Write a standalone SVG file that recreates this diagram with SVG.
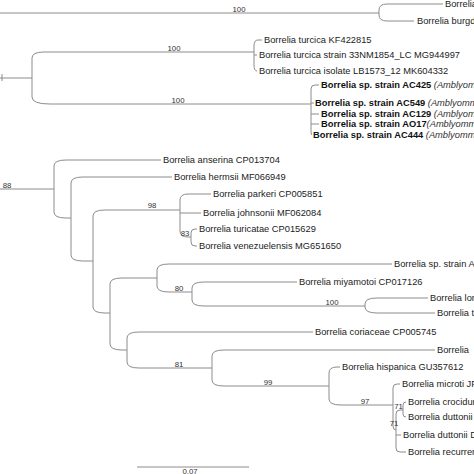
<svg xmlns="http://www.w3.org/2000/svg" width="474" height="474" viewBox="0 0 474 474">
<style>
.e{fill:none;stroke:#8c8c8c;stroke-width:1}
.t{font-family:"Liberation Sans",Arial,sans-serif;font-size:9.3px;fill:#222}
.b{font-weight:bold;fill:#111}
.i{font-style:italic;font-weight:normal;fill:#333}
.s{font-family:"Liberation Sans",Arial,sans-serif;font-size:7.8px;fill:#333;text-anchor:middle}
</style>
<rect width="474" height="474" fill="#fff"/>
<g id="connectors">
<path class="e" d="M0,13 L379,13"/>
<path class="e" d="M443,4 L387,4 Q379,4 379,10 L379,15 Q379,21 387,21 L414,21"/>
<path class="e" d="M2,74 L2,81 M0,78 L32,78"/>
<path class="e" d="M254,52 L44,52 Q32,52 32,58 L32,97 Q32,104 50,104 L311,104"/>
<path class="e" d="M262,40 L258,40 Q254,40 254,46 L254,65 Q254,71 257,71 M254,55 L257,55"/>
<path class="e" d="M319,85 L315,85 Q311,85 311,89 L311,131 Q311,135 312,135 M311,103 L314,103 M311,114 L319,114 M311,124 L319,124"/>
<path class="e" d="M0,189 L54,189"/>
<path class="e" d="M161,160 L66,160 Q54,160 54,166 L54,212 Q54,218 66,218 L71,218"/>
<path class="e" d="M172,177 L83,177 Q71,177 71,183 L71,255 Q71,261 83,261 L93,261"/>
<path class="e" d="M180,210 L105,210 Q93,210 93,216 L93,307 Q93,313 105,313 L110,313"/>
<path class="e" d="M211,194 L188,194 Q180,194 180,200 L180,231 Q180,237 188,237 L191,237 M180,213 L201,213"/>
<path class="e" d="M197,229 L195,229 Q191,229 191,233 L191,242 Q191,246 195,246 L197,246"/>
<path class="e" d="M157,278 L122,278 Q110,278 110,284 L110,344 Q110,350 122,350 L127,350"/>
<path class="e" d="M392,264 L169,264 Q157,264 157,270 L157,286 Q157,292 169,292 L192,292"/>
<path class="e" d="M297,282 L204,282 Q192,282 192,288 L192,300 Q192,306 204,306 L365,306"/>
<path class="e" d="M428,298 L377,298 Q365,298 365,304 L365,307 Q365,313 377,313 L435,313"/>
<path class="e" d="M313,332 L139,332 Q127,332 127,338 L127,362 Q127,368 139,368 L212,368"/>
<path class="e" d="M435,350 L224,350 Q212,350 212,356 L212,380 Q212,386 224,386 L329,386"/>
<path class="e" d="M340,367 L337,367 Q329,367 329,373 L329,399 Q329,405 341,405 L393,405"/>
<path class="e" d="M400,384 L397,384 Q393,384 393,388 L393,426 Q393,430 396,430"/>
<path class="e" d="M403,410 L400,410 Q396,410 396,414 L396,448 Q396,452 400,452 L406,452 M396,435 L401,435"/>
<path class="e" d="M406,402 Q403,402 403,405 L403,414 Q403,417 406,417"/>
<path class="e" d="M137,467 L249,467"/>
</g>
<g id="support-labels">
<text class="s" x="239" y="12">100</text>
<text class="s" x="174" y="50.5">100</text>
<text class="s" x="178" y="103">100</text>
<text class="s" x="7" y="188">88</text>
<text class="s" x="152" y="208">98</text>
<text class="s" x="185" y="236">83</text>
<text class="s" x="179" y="291">80</text>
<text class="s" x="332" y="305">100</text>
<text class="s" x="179" y="367">81</text>
<text class="s" x="268" y="385">99</text>
<text class="s" x="365" y="404">97</text>
<text class="s" x="398.5" y="408.5">71</text>
<text class="s" x="394" y="426">71</text>
</g>
<g id="scale"><text class="s" x="190" y="474">0.07</text></g>
<g id="n-top1"><text class="t" x="445" y="7.3">Borrelia</text></g>
<g id="n-top2"><text class="t" x="417" y="24.3">Borrelia burgdo</text></g>
<g id="n-turcica1"><text class="t" x="264" y="43.3">Borrelia turcica KF422815</text></g>
<g id="n-turcica2"><text class="t" x="259" y="58.3">Borrelia turcica strain 33NM1854_LC MG944997</text></g>
<g id="n-turcica3"><text class="t" x="259" y="74.3">Borrelia turcica isolate LB1573_12 MK604332</text></g>
<g id="n-AC425"><text class="t b" x="321" y="88.3">Borrelia sp. strain AC425 <tspan class="i">(Amblyomma</tspan></text></g>
<g id="n-AC549"><text class="t b" x="315" y="106.3">Borrelia sp. strain AC549 <tspan class="i">(Amblyomma</tspan></text></g>
<g id="n-AC129"><text class="t b" x="321" y="117.3">Borrelia sp. strain AC129 <tspan class="i">(Amblyomma</tspan></text></g>
<g id="n-AO17"><text class="t b" x="321" y="127.3">Borrelia sp. strain AO17<tspan class="i">(Amblyomma</tspan></text></g>
<g id="n-AC444"><text class="t b" x="313" y="138.3">Borrelia sp. strain AC444 <tspan class="i">(Amblyomma</tspan></text></g>
<g id="n-anserina"><text class="t" x="163" y="163.3">Borrelia anserina CP013704</text></g>
<g id="n-hermsii"><text class="t" x="174" y="180.3">Borrelia hermsii MF066949</text></g>
<g id="n-parkeri"><text class="t" x="213" y="197.3">Borrelia parkeri CP005851</text></g>
<g id="n-johnsonii"><text class="t" x="203" y="216.3">Borrelia johnsonii MF062084</text></g>
<g id="n-turicatae"><text class="t" x="199" y="232.3">Borrelia turicatae CP015629</text></g>
<g id="n-venezuelensis"><text class="t" x="199" y="249.3">Borrelia venezuelensis MG651650</text></g>
<g id="n-spA"><text class="t" x="394" y="267.3">Borrelia sp. strain A</text></g>
<g id="n-miyamotoi"><text class="t" x="299" y="285.3">Borrelia miyamotoi CP017126</text></g>
<g id="n-lon"><text class="t" x="430" y="301.3">Borrelia lon</text></g>
<g id="n-t"><text class="t" x="437" y="316.3">Borrelia t</text></g>
<g id="n-coriaceae"><text class="t" x="315" y="335.3">Borrelia coriaceae CP005745</text></g>
<g id="n-b350"><text class="t" x="437" y="353.3">Borrelia</text></g>
<g id="n-hispanica"><text class="t" x="342" y="370.3">Borrelia hispanica GU357612</text></g>
<g id="n-microti"><text class="t" x="402" y="387.3">Borrelia microti JF</text></g>
<g id="n-crocidurae"><text class="t" x="408" y="405.3">Borrelia crocidur</text></g>
<g id="n-duttonii1"><text class="t" x="408" y="420.3">Borrelia duttonii</text></g>
<g id="n-duttonii2"><text class="t" x="403" y="438.3">Borrelia duttonii D</text></g>
<g id="n-recurrentis"><text class="t" x="408" y="455.3">Borrelia recurren</text></g>
</svg>
